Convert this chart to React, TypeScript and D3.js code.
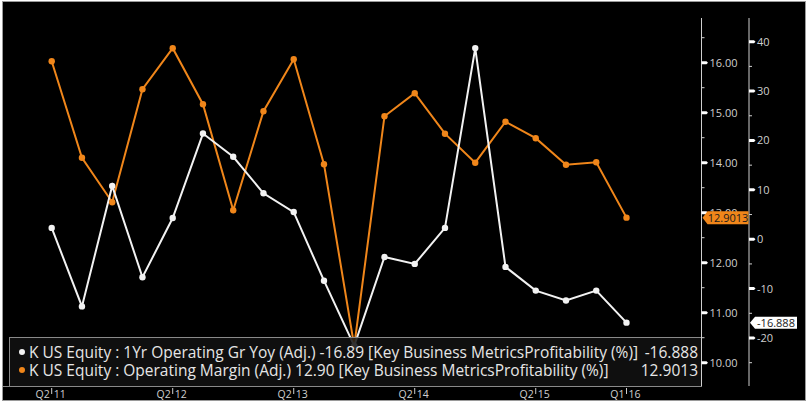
import React from "react";
import * as d3 from "d3";

const quarters = ["Q2'11","Q3'11","Q4'11","Q1'12","Q2'12","Q3'12","Q4'12","Q1'13","Q2'13","Q3'13","Q4'13","Q1'14","Q2'14","Q3'14","Q4'14","Q1'15","Q2'15","Q3'15","Q4'15","Q1'16"];
const operatingMargin = [16.03,14.10,13.21,15.47,16.29,15.17,13.05,15.03,16.07,13.97,10.33,14.93,15.39,14.58,14.00,14.82,14.49,13.96,14.01,12.9013];
const operatingGrowth = [2.3,-13.6,10.8,-7.7,4.3,21.4,16.7,9.3,5.5,-8.4,-21.6,-3.6,-5.0,2.3,38.7,-5.6,-10.4,-12.4,-10.4,-16.888];
const leftTicks = [10,11,12,13,14,15,16];
const leftMinor = [10.5,11.5,12.5,13.5,14.5,15.5,16.5];
const rightTicks = [-20,-10,0,10,20,30,40];
const rightMinor = [-25,-15,-5,5,15,25,35];
const xLabels = ["Q2'11","Q2'12","Q2'13","Q2'14","Q2'15","Q1'16"];
const legendLabels = [
  "K US Equity : 1Yr Operating Gr Yoy (Adj.) -16.89 [Key Business MetricsProfitability (%)]",
  "K US Equity : Operating Margin (Adj.) 12.90 [Key Business MetricsProfitability (%)]",
];
const legendValues = ["-16.888", "12.9013"];

const ORANGE = "#f0861a";
const WHITE = "#f2f2f2";
const GREY = "#cfcfcf";
const FONT = "'Open Sans', 'Liberation Sans', sans-serif";

export default function App() {
  const x = d3.scaleLinear().domain([0, quarters.length - 1]).range([51.7, 626.5]);
  const yL = d3.scaleLinear().domain([10, 16]).range([362.7, 62.7]);
  const yR = d3.scaleLinear().domain([-20, 40]).range([338, 41.7]);
  const lineL = d3.line<number>().x((_, i) => x(i)).y((d) => yL(d));
  const lineR = d3.line<number>().x((_, i) => x(i)).y((d) => yR(d));
  const axL = 701.5;
  const axR = 749;
  const lastM = operatingMargin[operatingMargin.length - 1];
  const lastG = operatingGrowth[operatingGrowth.length - 1];
  const qIndex = (q: string) => quarters.indexOf(q);

  return (
    <svg width={812} height={403} style={{ position: "absolute", left: 0, top: 0, display: "block" }}>
      <rect x={0} y={0} width={812} height={403} fill="#ffffff" />
      <rect x={2.5} y={1.5} width={803} height={399} fill="#000000" stroke="#9a9a9a" strokeWidth={1} />

      {/* series lines */}
      <path d={lineL(operatingMargin) || ""} fill="none" stroke={ORANGE} strokeWidth={2} />
      <path d={lineR(operatingGrowth) || ""} fill="none" stroke={WHITE} strokeWidth={2} />
      {operatingMargin.map((v, i) => (
        <circle key={"o" + i} cx={x(i)} cy={yL(v)} r={3.2} fill={ORANGE} />
      ))}
      {operatingGrowth.map((v, i) => (
        <circle key={"w" + i} cx={x(i)} cy={yR(v)} r={3.2} fill={WHITE} />
      ))}

      {/* legend */}
      <rect x={9.5} y={337.5} width={692} height={49} fill="rgba(18,18,18,0.86)" stroke="#8a8a8a" strokeWidth={1} />
      <circle cx={22} cy={352} r={3} fill={WHITE} />
      <circle cx={22} cy={370} r={3} fill={ORANGE} />
      {legendLabels.map((t, i) => (
        <text key={"l" + i} x={29} y={357.5 + i * 18} fill="#e6e6e6" fontFamily={FONT} fontSize={15.5}>{t}</text>
      ))}
      {legendValues.map((t, i) => (
        <text key={"lv" + i} x={698} y={357.5 + i * 18} fill="#e6e6e6" fontFamily={FONT} fontSize={15.5} textAnchor="end">{t}</text>
      ))}

      {/* bottom axis */}
      <line x1={3} x2={701.5} y1={386.5} y2={386.5} stroke="#8a8a8a" strokeWidth={1} />
      {xLabels.map((q) => {
        const xi = x(qIndex(q));
        const [a, b] = q.split("'");
        return (
          <g key={q}>
            <line x1={xi} x2={xi} y1={388} y2={394} stroke={GREY} strokeWidth={1} />
            <text x={xi - 2} y={398} fill={GREY} fontFamily={FONT} fontSize={10.5} textAnchor="end">{a}</text>
            <text x={xi + 2} y={398} fill={GREY} fontFamily={FONT} fontSize={10.5}>{b}</text>
          </g>
        );
      })}

      {/* left (margin) axis */}
      <line x1={axL} x2={axL} y1={18} y2={386} stroke={GREY} strokeWidth={1} />
      {leftMinor.map((v) => (
        <line key={"lm" + v} x1={axL} x2={axL + 3} y1={yL(v)} y2={yL(v)} stroke={GREY} strokeWidth={1} />
      ))}
      {leftTicks.map((v) => (
        <g key={"lt" + v}>
          <path d={`M${axL},${yL(v) - 1.5}L${axL + 5},${yL(v) - 1.5}L${axL + 6.5},${yL(v)}L${axL + 5},${yL(v) + 1.5}L${axL},${yL(v) + 1.5}Z`} fill="#ffffff" />
          <text x={axL + 8} y={yL(v) + 4} fill={GREY} fontFamily={FONT} fontSize={11}>{v.toFixed(2)}</text>
        </g>
      ))}

      {/* right (growth) axis */}
      <line x1={axR} x2={axR} y1={18} y2={386} stroke={GREY} strokeWidth={1} />
      {rightMinor.map((v) => (
        <line key={"rm" + v} x1={axR} x2={axR + 3} y1={yR(v)} y2={yR(v)} stroke={GREY} strokeWidth={1} />
      ))}
      {rightTicks.map((v) => (
        <g key={"rt" + v}>
          <path d={`M${axR},${yR(v) - 1.5}L${axR + 5},${yR(v) - 1.5}L${axR + 6.5},${yR(v)}L${axR + 5},${yR(v) + 1.5}L${axR},${yR(v) + 1.5}Z`} fill="#ffffff" />
          <text x={axR + 8} y={yR(v) + 4} fill={GREY} fontFamily={FONT} fontSize={11}>{String(v)}</text>
        </g>
      ))}

      {/* last value tags */}
      <path d={`M${axL + 1},${yL(lastM)}L${axL + 6},${yL(lastM) - 6.5}L${axL + 47},${yL(lastM) - 6.5}L${axL + 47},${yL(lastM) + 6.5}L${axL + 6},${yL(lastM) + 6.5}Z`} fill={ORANGE} />
      <text x={axL + 26.5} y={yL(lastM) + 4} fill="#1a1a1a" fontFamily={FONT} fontSize={11} textAnchor="middle">{lastM.toFixed(4)}</text>
      <path d={`M${axR + 1},${yR(lastG)}L${axR + 6},${yR(lastG) - 6}L${axR + 48},${yR(lastG) - 6}L${axR + 48},${yR(lastG) + 6}L${axR + 6},${yR(lastG) + 6}Z`} fill="#ffffff" />
      <text x={axR + 27} y={yR(lastG) + 4} fill="#1a1a1a" fontFamily={FONT} fontSize={11} textAnchor="middle">{lastG.toFixed(3)}</text>
    </svg>
  );
}
